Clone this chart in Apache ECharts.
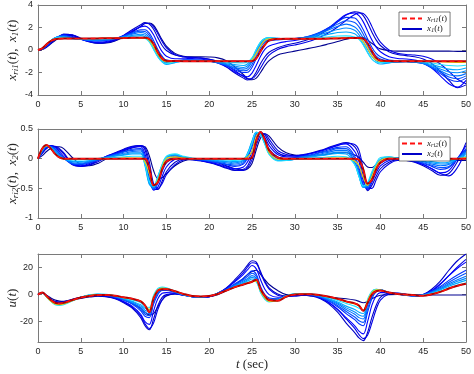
<!DOCTYPE html>
<html><head><meta charset="utf-8">
<script src="https://cdn.jsdelivr.net/npm/echarts@6/dist/echarts.min.js"></script>
<style>html,body{margin:0;padding:0;background:#fff}#c{width:474px;height:374px}</style>
</head><body><div id="c"></div>
<script>
// time samples (sec)
const T = [0,0.5,1,1.5,2,2.5,3, 4,5,6,7,8,9,10,11,12, 12.5,13,13.5,14,14.5,15, 16,17,18,19,20,21,22,23,24, 24.5,25,25.5,26,26.5,27, 28,29,30,31,32,33,34,35,36,37, 37.5,38,38.5,39,39.5,40, 41,42,43,44,45,46,47,48,49,50];
const X_MIN = 0, X_MAX = 50, X_STEP = 5;

// ---------- panel 1 : x_ri1(t), x_1(t) ----------
const p1_ref = [0,0.15,0.5,0.8,0.95,1.0,1.02, 1.02,1.02,1.02,1.03,1.04,1.05,1.06,1.08,1.08, 1.08,0.98,0.55,-0.2,-0.75,-0.95, -0.98,-1,-1,-1,-1,-1,-1,-1,-1, -1,-1,-0.75,-0.1,0.45,0.85, 0.98,1,1,1,1,1,1.02,1.03,1.05,1.07, 1.07,1.0,0.6,-0.1,-0.7,-0.93, -0.98,-1,-1,-1,-1,-1,-1,-1,-1,-1];
const p1_c0 = [0,0.05,0.25,0.55,0.85,1.1,1.32, 1.3,1.0,0.75,0.6,0.62,0.8,1.15,1.6,2.1, 2.35,2.4,2.2,1.6,0.9,0.35, -0.3,-0.55,-0.6,-0.6,-0.62,-0.7,-0.95,-1.5,-2.2, -2.55,-2.65,-2.5,-2.0,-1.4,-0.95, -0.45,-0.25,-0.1,0.05,0.2,0.35,0.55,0.75,0.95,1.1, 1.15,1.1,0.9,0.6,0.3,0.1, -0.05,-0.1,-0.1,-0.1,-0.1,-0.1,-0.1,-0.1,-0.12,-0.12];
const p1_c1 = [0,0.07,0.3,0.65,0.95,1.22,1.42, 1.32,0.98,0.72,0.6,0.68,0.9,1.3,1.8,2.25, 2.43,2.3,1.85,1.1,0.4,-0.05, -0.45,-0.6,-0.65,-0.7,-0.82,-1.05,-1.5,-2.05,-2.5, -2.67,-2.5,-1.95,-1.2,-0.6,-0.2, 0.2,0.45,0.6,0.8,1.05,1.4,1.9,2.5,3.1,3.4, 3.35,3.05,2.4,1.6,0.9,0.4, -0.15,-0.4,-0.5,-0.6,-0.8,-1.2,-1.9,-2.7,-3.35,-3.1];
const p1_n1 = [0,0.07,0.3,0.62,0.92,1.18,1.38, 1.35,1.05,0.78,0.64,0.66,0.85,1.2,1.65,2.1, 2.35,2.35,2.05,1.45,0.75,0.2, -0.4,-0.62,-0.68,-0.72,-0.82,-1.0,-1.35,-1.85,-2.35, -2.55,-2.55,-2.2,-1.6,-0.95,-0.45, 0.05,0.3,0.45,0.62,0.85,1.15,1.55,2.05,2.65,3.15, 3.3,3.25,2.85,2.1,1.3,0.7, 0.0,-0.3,-0.4,-0.45,-0.55,-0.8,-1.25,-1.9,-2.6,-3.0];
const p1_c2 = [0,0.08,0.33,0.7,1.0,1.22,1.36, 1.2,0.95,0.75,0.68,0.75,0.95,1.3,1.7,2.05, 2.12,1.9,1.35,0.55,-0.15,-0.55, -0.78,-0.78,-0.75,-0.8,-0.92,-1.15,-1.5,-1.95,-2.3, -2.38,-2.05,-1.35,-0.55,0.05,0.35, 0.6,0.75,0.85,1.0,1.2,1.55,2.0,2.6,3.15,3.3, 3.05,2.5,1.7,0.9,0.25,-0.15, -0.6,-0.75,-0.8,-0.9,-1.1,-1.6,-2.3,-3.0,-3.3,-2.7];
const p1_c3 = [0,0.1,0.38,0.75,1.05,1.25,1.32, 1.12,0.95,0.82,0.78,0.85,1.0,1.25,1.55,1.8, 1.8,1.5,0.85,0.05,-0.55,-0.9, -0.95,-0.88,-0.86,-0.9,-1.0,-1.15,-1.4,-1.75,-2.0, -1.98,-1.55,-0.75,0.05,0.55,0.8, 0.9,0.95,1.0,1.1,1.3,1.6,2.0,2.5,2.9,2.85, 2.45,1.8,1.0,0.25,-0.3,-0.6, -0.9,-0.95,-1.0,-1.05,-1.2,-1.6,-2.1,-2.6,-2.8,-2.5];
const p1_n2 = [0,0.11,0.4,0.78,1.06,1.22,1.27, 1.08,0.95,0.85,0.82,0.88,1.01,1.22,1.48,1.68, 1.65,1.3,0.62,-0.15,-0.7,-1.0, -1.0,-0.92,-0.9,-0.92,-1.0,-1.13,-1.35,-1.65,-1.85, -1.78,-1.3,-0.5,0.25,0.7,0.9, 0.96,0.98,1.01,1.1,1.28,1.55,1.9,2.3,2.6,2.45, 2.05,1.4,0.65,-0.05,-0.55,-0.8, -1.0,-1.02,-1.02,-1.08,-1.2,-1.55,-1.95,-2.4,-2.55,-2.3];
const p1_c4 = [0,0.12,0.42,0.8,1.08,1.2,1.22, 1.05,0.95,0.88,0.86,0.92,1.02,1.2,1.4,1.55, 1.48,1.1,0.4,-0.35,-0.85,-1.1, -1.05,-0.95,-0.93,-0.95,-1.0,-1.12,-1.3,-1.55,-1.7, -1.58,-1.05,-0.25,0.45,0.85,1.0, 1.02,1.0,1.02,1.1,1.25,1.5,1.8,2.1,2.3,2.05, 1.65,1.05,0.35,-0.3,-0.75,-0.95, -1.1,-1.08,-1.05,-1.1,-1.2,-1.5,-1.85,-2.2,-2.3,-2.1];
const p1_n3 = [0,0.13,0.44,0.81,1.08,1.17,1.17, 1.02,0.95,0.9,0.9,0.95,1.03,1.16,1.3,1.4, 1.32,0.95,0.25,-0.48,-0.95,-1.2, -1.1,-0.98,-0.95,-0.96,-1.0,-1.08,-1.22,-1.42,-1.55, -1.4,-0.9,-0.1,0.58,0.95,1.05, 1.03,1.0,1.01,1.08,1.18,1.38,1.6,1.82,1.95,1.75, 1.35,0.75,0.05,-0.55,-0.95,-1.1, -1.12,-1.06,-1.04,-1.08,-1.16,-1.4,-1.68,-1.95,-2.02,-1.85];
const p1_c5 = [0,0.13,0.45,0.82,1.08,1.15,1.12, 1.0,0.96,0.93,0.93,0.97,1.03,1.12,1.22,1.28, 1.18,0.8,0.1,-0.6,-1.05,-1.28, -1.12,-1.0,-0.98,-0.98,-1.0,-1.06,-1.15,-1.3,-1.38, -1.22,-0.75,0.05,0.7,1.02,1.1, 1.05,1.0,1.0,1.05,1.12,1.25,1.4,1.55,1.6,1.45, 1.1,0.5,-0.2,-0.8,-1.12,-1.25, -1.15,-1.05,-1.02,-1.05,-1.12,-1.3,-1.5,-1.7,-1.75,-1.6];
const p1_c6 = [0,0.14,0.48,0.85,1.05,1.1,1.07, 1.0,0.98,0.97,0.98,1.0,1.03,1.07,1.12,1.12, 1.05,0.72,0.05,-0.62,-1.05,-1.2, -1.05,-1.0,-1.0,-1.0,-1.0,-1.02,-1.06,-1.12,-1.15, -1.05,-0.7,0.05,0.7,1.02,1.08, 1.02,1.0,1.0,1.02,1.05,1.1,1.18,1.25,1.26,1.15, 0.95,0.45,-0.25,-0.8,-1.08,-1.12, -1.05,-1.0,-1.0,-1.02,-1.06,-1.15,-1.28,-1.38,-1.42,-1.35];
const p1_c7 = [0,0.15,0.5,0.83,1.0,1.04,1.04, 1.02,1.02,1.02,1.03,1.04,1.05,1.06,1.08,1.08, 1.06,0.85,0.3,-0.4,-0.88,-1.05, -1.02,-1.0,-1.0,-1.0,-1.0,-1.0,-1.0,-1.02,-1.02, -1.0,-0.88,-0.3,0.35,0.85,1.0, 1.0,1.0,1.0,1.0,1.0,1.02,1.04,1.06,1.08,1.08, 1.02,0.75,0.15,-0.5,-0.9,-1.02, -1.02,-1.0,-1.0,-1.0,-1.0,-1.02,-1.05,-1.08,-1.1,-1.08];

// ---------- panel 2 : x_ri2(t), x_2(t) ----------
const p2_ref = [0,0.17,0.23,0.17,0.08,0.02,0, 0,0,0,0,0,0,0,0,0, 0,-0.15,-0.45,-0.4,-0.18,-0.05, 0,0,0,0,0,0,0,0,0, 0,0.02,0.3,0.45,0.32,0.14, 0.02,0,0,0,0,0,0,0,0,0, -0.02,-0.18,-0.42,-0.36,-0.18,-0.07, 0,0,0,0,0,0,0,0,0,0];
const p2_c0 = [0,0.05,0.12,0.17,0.2,0.2,0.17, 0.02,-0.1,-0.12,-0.08,0.0,0.07,0.13,0.18,0.21, 0.2,0.05,-0.2,-0.33,-0.32,-0.25, -0.12,-0.04,-0.01,-0.02,-0.04,-0.07,-0.12,-0.17,-0.19, -0.17,-0.08,0.15,0.35,0.42,0.38, 0.2,0.1,0.06,0.05,0.05,0.06,0.08,0.1,0.1,0.06, 0.02,-0.06,-0.14,-0.15,-0.1,-0.05, 0.0,0.01,0.0,0.0,-0.01,-0.02,-0.03,-0.03,-0.03,-0.03];
const p2_c1 = [0,0.1,0.18,0.22,0.2,0.15,0.08, -0.1,-0.13,-0.1,-0.03,0.04,0.1,0.16,0.21,0.22, 0.15,-0.15,-0.5,-0.52,-0.38,-0.22, -0.06,-0.01,-0.02,-0.04,-0.07,-0.11,-0.16,-0.2,-0.18, -0.12,0.05,0.3,0.44,0.4,0.28, 0.1,0.05,0.05,0.07,0.1,0.14,0.19,0.24,0.27,0.2, 0.05,-0.3,-0.54,-0.45,-0.3,-0.17, -0.06,-0.02,-0.03,-0.06,-0.12,-0.2,-0.28,-0.25,-0.05,0.27];
const p2_n1 = [0,0.09,0.17,0.21,0.21,0.17,0.1, -0.08,-0.13,-0.11,-0.05,0.02,0.08,0.15,0.2,0.22, 0.19,-0.05,-0.42,-0.5,-0.42,-0.27, -0.1,-0.02,-0.01,-0.03,-0.06,-0.1,-0.15,-0.19,-0.2, -0.15,-0.02,0.22,0.4,0.42,0.33, 0.14,0.07,0.05,0.06,0.09,0.13,0.17,0.22,0.26,0.24, 0.14,-0.18,-0.48,-0.5,-0.36,-0.22, -0.09,-0.03,-0.03,-0.05,-0.1,-0.17,-0.25,-0.29,-0.15,0.15];
const p2_c2 = [0,0.11,0.19,0.22,0.19,0.12,0.04, -0.1,-0.12,-0.08,-0.02,0.04,0.09,0.14,0.19,0.2, 0.08,-0.25,-0.53,-0.48,-0.3,-0.14, -0.01,0.01,-0.01,-0.03,-0.06,-0.09,-0.13,-0.17,-0.14, -0.05,0.12,0.36,0.45,0.36,0.22, 0.07,0.03,0.03,0.06,0.09,0.13,0.18,0.23,0.25,0.12, -0.05,-0.38,-0.52,-0.4,-0.24,-0.12, -0.03,-0.01,-0.02,-0.05,-0.1,-0.17,-0.24,-0.2,0.0,0.22];
const p2_c3 = [0,0.12,0.2,0.21,0.17,0.09,0.01, -0.09,-0.1,-0.07,-0.02,0.03,0.08,0.12,0.16,0.17, 0.02,-0.33,-0.52,-0.42,-0.22,-0.07, 0.03,0.02,-0.01,-0.02,-0.04,-0.07,-0.1,-0.13,-0.09, 0.02,0.2,0.4,0.44,0.32,0.16, 0.03,0.0,0.02,0.04,0.07,0.11,0.15,0.19,0.2,0.04, -0.15,-0.44,-0.5,-0.35,-0.18,-0.08, -0.01,0.0,-0.01,-0.04,-0.08,-0.13,-0.18,-0.15,0.0,0.17];
const p2_n2 = [0,0.12,0.2,0.2,0.16,0.08,0.01, -0.08,-0.09,-0.06,-0.02,0.03,0.07,0.11,0.14,0.15, -0.02,-0.37,-0.51,-0.39,-0.19,-0.05, 0.04,0.02,0.0,-0.02,-0.04,-0.06,-0.09,-0.11,-0.07, 0.05,0.23,0.42,0.43,0.3,0.14, 0.02,-0.01,0.01,0.03,0.06,0.1,0.13,0.17,0.17,0.0, -0.2,-0.46,-0.49,-0.33,-0.15,-0.06, 0.0,0.01,-0.01,-0.03,-0.07,-0.11,-0.15,-0.13,0.0,0.15];
const p2_c4 = [0,0.13,0.21,0.2,0.14,0.06,0.0, -0.07,-0.08,-0.05,-0.01,0.02,0.06,0.09,0.12,0.13, -0.05,-0.4,-0.5,-0.36,-0.16,-0.02, 0.05,0.02,0.0,-0.01,-0.03,-0.05,-0.07,-0.09,-0.05, 0.07,0.26,0.43,0.42,0.28,0.12, 0.0,-0.02,0.0,0.03,0.05,0.08,0.11,0.14,0.14,-0.05, -0.25,-0.48,-0.47,-0.3,-0.13,-0.04, 0.01,0.01,0.0,-0.02,-0.05,-0.09,-0.12,-0.1,0.0,0.12];
const p2_n3 = [0,0.14,0.21,0.19,0.12,0.05,0.0, -0.05,-0.06,-0.04,-0.01,0.02,0.05,0.07,0.1,0.1, -0.09,-0.42,-0.49,-0.33,-0.13,0.01, 0.06,0.03,0.0,-0.01,-0.02,-0.04,-0.05,-0.07,-0.03, 0.09,0.28,0.44,0.41,0.26,0.1, -0.02,-0.03,-0.01,0.02,0.04,0.06,0.09,0.11,0.11,-0.08, -0.28,-0.48,-0.44,-0.27,-0.11,-0.02, 0.02,0.01,0.0,-0.01,-0.04,-0.07,-0.09,-0.08,0.0,0.1];
const p2_c5 = [0,0.14,0.22,0.19,0.11,0.04,0.0, -0.04,-0.05,-0.03,0.0,0.02,0.04,0.06,0.08,0.08, -0.12,-0.43,-0.47,-0.3,-0.1,0.03, 0.07,0.03,0.0,0.0,-0.01,-0.03,-0.04,-0.05,-0.02, 0.1,0.3,0.45,0.4,0.25,0.08, -0.03,-0.03,-0.01,0.01,0.03,0.05,0.07,0.09,0.08,-0.1, -0.3,-0.48,-0.42,-0.25,-0.1,-0.01, 0.03,0.01,0.0,-0.01,-0.03,-0.05,-0.07,-0.06,0.0,0.07];
const p2_c6 = [0,0.15,0.22,0.18,0.09,0.03,0.0, -0.02,-0.02,-0.01,0.0,0.01,0.02,0.03,0.04,0.04, -0.1,-0.38,-0.46,-0.3,-0.1,0.04, 0.08,0.04,0.01,0.0,0.0,-0.01,-0.02,-0.03,0.0, 0.08,0.26,0.44,0.4,0.24,0.07, -0.04,-0.03,-0.01,0.0,0.01,0.02,0.03,0.04,0.03,-0.1, -0.3,-0.46,-0.4,-0.22,-0.08,0.02, 0.03,0.01,0.0,0.0,-0.01,-0.02,-0.03,-0.03,0.0,0.04];
const p2_c7 = [0,0.16,0.22,0.17,0.08,0.02,0.0, 0,0,0,0,0,0,0.01,0.01,0.01, -0.05,-0.25,-0.46,-0.36,-0.14,0.0, 0.03,0.01,0,0,0,0,0,0,0, 0.03,0.12,0.38,0.44,0.3,0.1, -0.01,-0.01,0,0,0,0,0.01,0.01,0.01,-0.04, -0.12,-0.32,-0.45,-0.3,-0.13,-0.03, 0.01,0,0,0,0,0,-0.01,-0.01,0,0.02];

// ---------- panel 3 : u(t) ----------
const p3_ref = [0,1.5,-1,-4,-6,-6.5,-6, -4,-2.2,-1,-0.3,-0.3,-0.8,-2,-3,-5, -8,-13,-3,3,4,4, 2.5,0.5,-1,-1.3,-1,0.5,3,5.5,7.5, 8.5,9.5,11,4,-1,-4, -4.5,-1.5,0,0.3,0.2,-0.5,-1.5,-3,-5,-6.5, -8,-12,-6,0,2.5,3, 1.5,0.5,0,-0.5,-0.8,0.3,2,4.5,6.5,8];
const p3_c0 = [0,1.2,-0.5,-2.5,-4,-4.8,-5, -4,-2.8,-1.8,-1.2,-1.5,-2.5,-4,-6.5,-10, -13,-15,-14,-9,-4,-1, 0.5,0,-1,-1.5,-1.5,0,3,7,12, 15,17,18,15,11,7.5, 3,0,-0.5,-0.5,-1,-1.5,-2,-2.5,-3,-4, -5,-6,-5,-3,-1.5,-0.5, 0,0.2,0.1,0,-0.2,-0.3,-0.3,-0.3,-0.3,-0.3];
const p3_c1 = [0,1.5,-1,-3.5,-5,-5.5,-5.3, -3.5,-2,-1,-0.8,-1.5,-3,-6,-10,-17, -23,-26,-18,-8,-2,0, 0.5,-0.5,-1.5,-2,-1.5,1,5,11,18, 22,25,24,17,10,5, 0.5,-1,-1,-0.5,-1,-3,-7,-13,-21,-28, -32,-34,-28,-17,-8,-2, 1,1,0,-1,0,4,10,18,25,30];
const p3_n1 = [0,1.4,-0.8,-3.5,-5.2,-5.8,-5.5, -3.8,-2.3,-1.2,-0.8,-1.2,-2.6,-5.5,-9.3,-15.5, -21.5,-25,-21,-11,-4,-0.5, 0.8,-0.3,-1.4,-2,-1.5,0.8,4.5,10,16.5, 20.5,23.5,23,16,9,4, -0.5,-1.5,-1,-0.5,-0.8,-2.5,-6,-11,-18,-25, -29.5,-32.5,-30,-21,-11,-4, 0.5,1.2,0.3,-0.8,-0.5,2.5,7.5,14,20.5,26];
const p3_c2 = [0,1.6,-1,-3.8,-5.5,-6,-5.6, -3.8,-2,-0.8,-0.5,-1,-2.5,-5,-8.5,-14.5, -20,-22,-12,-3,1,1.5, 1,-0.5,-1.5,-2,-1.5,1,4.5,9.5,15, 18.5,21.5,19,11,4,0, -2,-1.5,-0.5,0,-0.5,-2.5,-6,-11,-17,-23, -27,-29,-20,-8,-1,1.5, 1.5,0.5,-0.5,-1,0,3,8,14,19.5,24];
const p3_c3 = [0,1.6,-1.2,-4,-6,-6.5,-6, -4,-2,-0.6,-0.2,-0.7,-2,-4,-7,-12, -16,-17,-7,0,3,3, 1.5,-0.3,-1.5,-2,-1.3,1,4,8,12, 15,17.5,15,6,0,-2.5, -3,-1.5,0,0.2,-0.3,-2,-5,-9,-14,-18.5, -21.5,-23,-13,-3,2,3, 1.5,0.3,-0.5,-1,0,2.5,6,10.5,14.5,18];
const p3_n2 = [0,1.6,-1.2,-4.1,-6.2,-6.8,-6.3, -4.1,-2,-0.5,-0.1,-0.6,-1.7,-3.8,-6.5,-10.8, -14.5,-15.5,-5.5,1,3.5,3.5, 1.8,-0.2,-1.5,-1.9,-1.2,1,3.8,7.5,11, 13.5,15.8,13.5,4.8,-1,-3.3, -3.3,-1.3,0.1,0.3,-0.2,-1.8,-4.5,-8,-12.5,-16.5, -19.3,-20.5,-10.5,-1.5,2.8,3.3, 1.5,0.3,-0.4,-1,-0.2,2.2,5.2,9.2,12.7,15.8];
const p3_c4 = [0,1.6,-1.3,-4.3,-6.5,-7,-6.5, -4.2,-2,-0.5,0,-0.5,-1.5,-3.5,-6,-9.5, -13,-14,-4,2,4,4, 2,0,-1.5,-1.8,-1.2,1,3.5,7,10, 12,14,12,3.5,-2,-4, -3.5,-1.2,0.2,0.4,0,-1.5,-4,-7,-11,-14.5, -17,-18,-8,0,3.5,3.5, 1.5,0.3,-0.3,-1,-0.3,2,4.5,8,11,13.5];
const p3_n3 = [0,1.6,-1.4,-4.5,-6.8,-7.3,-6.8, -4.4,-2,-0.4,0.2,-0.2,-1.2,-3.1,-5.5,-8.5, -11.5,-12.5,-3,2.8,4.5,4.3, 2.1,0,-1.4,-1.7,-1.1,0.9,3.2,6.5,9.2, 11,12.7,11,2.8,-2.5,-4.5, -3.8,-1.1,0.4,0.5,0.1,-1.2,-3.5,-6.2,-9.8,-12.8, -15,-16,-6.5,1,3.8,3.5, 1.5,0.4,-0.2,-0.9,-0.4,1.6,4,7.1,9.8,12];
const p3_c5 = [0,1.6,-1.5,-4.6,-7,-7.5,-7, -4.5,-2,-0.3,0.3,0,-1,-2.8,-5,-7.5, -10,-11,-2,3.5,5,4.5, 2.2,0,-1.3,-1.6,-1,0.8,3,6,8.5, 10,11.5,10,2,-3,-5, -4,-1,0.5,0.5,0.2,-1,-3,-5.5,-8.5,-11, -13,-14,-5,2,4,3.5, 1.5,0.5,-0.2,-0.8,-0.5,1.2,3.5,6.2,8.5,10.5];
const p3_c6 = [0,1.6,-1.8,-5,-7.5,-8,-7.5, -4.8,-2,-0.2,0.5,0.2,-0.8,-2.5,-4,-6, -8.5,-9.5,-0.5,4.5,5.5,5, 2.5,0.3,-1.2,-1.5,-1,0.6,2.8,5.5,7.5, 9,10,9.5,1.5,-3.5,-5.5, -4.2,-1,0.8,0.8,0.3,-0.8,-2.3,-4.3,-6.5,-8.5, -10,-11.5,-3.5,2.5,4,3.5, 1.5,0.5,0,-0.6,-0.5,0.8,2.6,5,7,8.8];
const p3_c7 = [0,1.6,-1.6,-4.8,-7,-7.5,-7, -4.5,-2.2,-0.6,0,0,-0.8,-2.2,-3.3,-4.8, -8,-11,-1.5,3.5,4.8,4.5, 2.5,0.3,-1.1,-1.4,-1,0.5,3,5.5,7.5, 8.5,9.5,10,2.5,-2.5,-5, -4.5,-1.3,0.3,0.5,0.3,-0.6,-1.8,-3.3,-5.3,-7, -8.5,-11.5,-4.5,1.5,3.5,3.3, 1.5,0.5,0,-0.5,-0.7,0.4,2.2,4.6,6.6,8.2];

// y-axis tick labels
const Y1_TICKS = [-4,-2,0,2,4];
const Y2_TICKS = [-1,-0.5,0,0.5];
const Y3_TICKS = [-20,0,20];

const FAM_COLORS = ['#00008f','#0000c8','#0000e6','#0000ff','#0030ff','#0050ff','#0070ff','#008cff','#00a8ff','#20e0ff','#f0d400'];
const FINAL_COLOR = '#b00000', REF_COLOR = '#ff1010';
const AX = '#7a7a7a', TXT = '#262626';
const SERIF = 'Liberation Serif';

const panels = [
  {fam:[p1_c0,p1_c1,p1_n1,p1_c2,p1_c3,p1_n2,p1_c4,p1_n3,p1_c5,p1_c6,p1_c7], ref:p1_ref, ticks:Y1_TICKS, min:-4, max:4,
   refName:'xr1', famName:'x1', top:5, height:90,
   yname:'{i|x}{s|ri1}{n|(}{i|t}{n|),  }{i|x}{s|1}{n|(}{i|t}{n|)}'},
  {fam:[p2_c0,p2_c1,p2_n1,p2_c2,p2_c3,p2_n2,p2_c4,p2_n3,p2_c5,p2_c6,p2_c7], ref:p2_ref, ticks:Y2_TICKS, min:-1, max:0.5,
   refName:'xr2', famName:'x2', top:129, height:89,
   yname:'{i|x}{s|ri2}{n|(}{i|t}{n|),  }{i|x}{s|2}{n|(}{i|t}{n|)}'},
  {fam:[p3_c0,p3_c1,p3_n1,p3_c2,p3_c3,p3_n2,p3_c4,p3_n3,p3_c5,p3_c6,p3_c7], ref:p3_ref, ticks:Y3_TICKS, min:-35, max:30,
   refName:null, famName:null, top:254, height:88,
   yname:'{i|u}{n|(}{i|t}{n|)}'}
];

const nameRich = {
  i:{fontFamily:SERIF, fontStyle:'italic', fontSize:13, color:TXT, lineHeight:14, verticalAlign:'middle'},
  n:{fontFamily:SERIF, fontSize:13, color:TXT, lineHeight:14, verticalAlign:'middle'},
  s:{fontFamily:SERIF, fontStyle:'italic', fontSize:9, color:TXT, lineHeight:14, verticalAlign:'bottom'}
};
const legRich = {
  i:{fontFamily:SERIF, fontStyle:'italic', fontSize:9, color:TXT, lineHeight:10, verticalAlign:'middle'},
  n:{fontFamily:SERIF, fontSize:9, color:TXT, lineHeight:10, verticalAlign:'middle'},
  s:{fontFamily:SERIF, fontStyle:'italic', fontSize:6.5, color:TXT, lineHeight:10, verticalAlign:'bottom'}
};
const legendText = {
  xr1:'{i|x}{s|ri1}{n|(}{i|t}{n|)}', x1:'{i|x}{s|1}{n|(}{i|t}{n|)}',
  xr2:'{i|x}{s|ri2}{n|(}{i|t}{n|)}', x2:'{i|x}{s|2}{n|(}{i|t}{n|)}'
};

const grid = [], xAxis = [], yAxis = [], series = [];
const tickStyle = {show:true, inside:true, length:4, lineStyle:{color:AX, width:1}};
const lineStyleAx = {show:true, onZero:false, lineStyle:{color:AX, width:1}};
const labelStyle = {color:TXT, fontSize:9, fontFamily:'Liberation Sans'};

panels.forEach((p, g) => {
  grid.push({left:38, right:8, top:p.top, height:p.height, outerBoundsMode:'none'});
  const isLast = g === panels.length - 1;
  xAxis.push({type:'value', gridIndex:g, min:X_MIN, max:X_MAX, interval:X_STEP, position:'bottom',
    axisLine:lineStyleAx, axisTick:tickStyle, splitLine:{show:false},
    axisLabel:Object.assign({margin:5}, labelStyle),
    name: isLast ? '{i|t} {n|(sec)}' : '', nameLocation:'middle', nameGap:16,
    nameTextStyle:{rich:nameRich}});
  xAxis.push({type:'value', gridIndex:g, min:X_MIN, max:X_MAX, interval:X_STEP, position:'top',
    axisLine:lineStyleAx, axisTick:tickStyle, splitLine:{show:false}, axisLabel:{show:false}});
  yAxis.push({type:'value', gridIndex:g, min:p.min, max:p.max, position:'left',
    axisLine:lineStyleAx, axisTick:Object.assign({customValues:p.ticks}, tickStyle), splitLine:{show:false},
    axisLabel:Object.assign({margin:5, customValues:p.ticks}, labelStyle),
    name:p.yname, nameLocation:'middle', nameGap:18, nameRotate:90, nameMoveOverlap:false,
    nameTextStyle:{rich:nameRich}});
  yAxis.push({type:'value', gridIndex:g, min:p.min, max:p.max, position:'right',
    axisLine:lineStyleAx, axisTick:Object.assign({customValues:p.ticks}, tickStyle), splitLine:{show:false},
    axisLabel:{show:false}});
  const xi = 2*g, yi = 2*g;
  p.fam.forEach((arr, k) => {
    series.push({type:'line', name: (k===1 && p.famName) ? p.famName : ('f'+g+'_'+k),
      xAxisIndex:xi, yAxisIndex:yi, data:T.map((t,i)=>[t, arr[i]]),
      symbol:'none', smooth:0.35, silent:true,
      lineStyle:{width:1.1, color:FAM_COLORS[k]}, itemStyle:{color:FAM_COLORS[k]}, z:2});
  });
  series.push({type:'line', name:'final'+g, xAxisIndex:xi, yAxisIndex:yi, data:T.map((t,i)=>[t, p.ref[i]]),
    symbol:'none', smooth:0.35, silent:true, lineStyle:{width:2, color:FINAL_COLOR}, itemStyle:{color:FINAL_COLOR}, z:3});
  series.push({type:'line', name: p.refName || ('ref'+g), xAxisIndex:xi, yAxisIndex:yi, data:T.map((t,i)=>[t, p.ref[i]]),
    symbol:'none', smooth:0.35, silent:true, lineStyle:{width:1.3, type:[5,3], color:REF_COLOR}, itemStyle:{color:REF_COLOR}, z:4});
});

const legendBase = {orient:'vertical', left:399, itemWidth:20, itemHeight:8, itemGap:1,
  padding:[2,3,2,2], backgroundColor:'#fff', borderColor:'#262626', borderWidth:0.6, borderRadius:0,
  selectedMode:false, formatter:n=>legendText[n], textStyle:{rich:legRich},
  itemStyle:{opacity:0, borderWidth:0}, z:10};

const option = {
  animation:false,
  backgroundColor:'#fff',
  grid, xAxis, yAxis, series,
  legend:[
    Object.assign({data:['xr1','x1'], top:12}, legendBase),
    Object.assign({data:['xr2','x2'], top:137}, legendBase)
  ]
};
const chart = echarts.init(document.getElementById('c'), null, {renderer:'canvas'});
chart.setOption(option);
</script></body></html>
